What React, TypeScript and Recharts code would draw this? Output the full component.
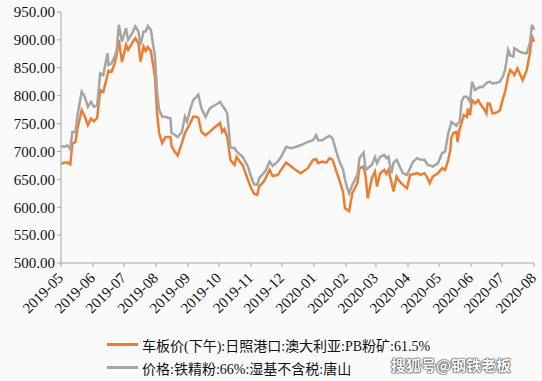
import { LineChart, Line, XAxis, YAxis, Legend } from 'recharts';

// trading days (sampled) 2019-05 .. 2020-08
const dates = [
  '2019-05-01', '2019-05-04', '2019-05-07', '2019-05-10', '2019-05-12', '2019-05-15', '2019-05-17', '2019-05-21',
  '2019-05-24', '2019-05-27', '2019-05-30', '2019-06-02', '2019-06-05', '2019-06-08', '2019-06-11', '2019-06-15',
  '2019-06-16', '2019-06-19', '2019-06-22', '2019-06-24', '2019-06-26', '2019-06-29', '2019-07-03', '2019-07-05',
  '2019-07-09', '2019-07-12', '2019-07-15', '2019-07-17', '2019-07-20', '2019-07-22', '2019-07-24', '2019-07-27',
  '2019-07-31', '2019-08-02', '2019-08-04', '2019-08-07', '2019-08-10', '2019-08-15', '2019-08-16', '2019-08-19',
  '2019-08-22', '2019-08-26', '2019-08-29', '2019-08-31', '2019-09-03', '2019-09-06', '2019-09-09', '2019-09-11',
  '2019-09-14', '2019-09-18', '2019-09-22', '2019-09-26', '2019-09-30', '2019-10-02', '2019-10-04', '2019-10-06',
  '2019-10-09', '2019-10-12', '2019-10-14', '2019-10-16', '2019-10-18', '2019-10-21', '2019-10-24', '2019-10-29',
  '2019-11-01', '2019-11-04', '2019-11-07', '2019-11-09', '2019-11-13', '2019-11-15', '2019-11-19', '2019-11-22',
  '2019-11-27', '2019-11-30', '2019-12-05', '2019-12-10', '2019-12-14', '2019-12-19', '2019-12-26', '2019-12-31',
  '2020-01-03', '2020-01-05', '2020-01-09', '2020-01-13', '2020-01-16', '2020-01-19', '2020-01-23', '2020-01-26',
  '2020-01-29', '2020-01-31', '2020-02-02', '2020-02-04', '2020-02-07', '2020-02-12', '2020-02-14', '2020-02-18',
  '2020-02-20', '2020-02-22', '2020-02-26', '2020-02-29', '2020-03-02', '2020-03-05', '2020-03-09', '2020-03-11',
  '2020-03-13', '2020-03-16', '2020-03-18', '2020-03-21', '2020-03-24', '2020-03-27', '2020-03-31', '2020-04-03',
  '2020-04-06', '2020-04-10', '2020-04-13', '2020-04-17', '2020-04-20', '2020-04-22', '2020-04-25', '2020-04-30',
  '2020-05-04', '2020-05-07', '2020-05-10', '2020-05-12', '2020-05-13', '2020-05-15', '2020-05-18', '2020-05-19',
  '2020-05-21', '2020-05-23', '2020-05-25', '2020-05-28', '2020-05-29', '2020-05-31', '2020-06-02', '2020-06-05',
  '2020-06-08', '2020-06-10', '2020-06-12', '2020-06-14', '2020-06-16', '2020-06-17', '2020-06-19', '2020-06-22',
  '2020-06-26', '2020-06-29', '2020-07-02', '2020-07-04', '2020-07-07', '2020-07-09', '2020-07-12', '2020-07-13',
  '2020-07-16', '2020-07-18', '2020-07-21', '2020-07-25', '2020-07-28', '2020-07-30', '2020-08-01',
];

// 车板价(下午):日照港口:澳大利亚:PB粉矿:61.5%
const pbFines = [
  677, 680, 680, 677, 714, 717, 741, 774, 763, 747, 759, 754, 760, 810, 807, 837,
  845, 843, 858, 875, 900, 860, 891, 882, 895, 903, 894, 861, 888, 880, 887, 880,
  834, 769, 733, 715, 726, 726, 710, 700, 693, 715, 733, 740, 750, 762, 762, 760,
  735, 729, 735, 742, 748, 751, 735, 740, 726, 685, 680, 676, 690, 682, 675, 649,
  635, 624, 622, 638, 645, 652, 667, 656, 658, 667, 680, 673, 667, 661, 670, 685,
  686, 679, 682, 680, 688, 685, 662, 646, 628, 598, 596, 593, 625, 643, 670, 673,
  655, 616, 652, 664, 637, 661, 667, 660, 667, 645, 628, 655, 646, 640, 634, 658,
  659, 661, 658, 661, 652, 643, 655, 661, 670, 667, 685, 703, 725, 733, 735, 717,
  740, 752, 765, 762, 777, 765, 792, 786, 792, 785, 780, 775, 768, 786, 786, 768,
  770, 774, 795, 807, 835, 846, 840, 837, 849, 840, 828, 846, 876, 906, 897,
];

// 价格:铁精粉:66%:湿基不含税:唐山
const tsConcentrate = [
  710, 708, 711, 704, 735, 735, 765, 807, 798, 780, 789, 780, 783, 840, 837, 876,
  855, 858, 870, 882, 927, 897, 921, 900, 912, 924, 915, 891, 915, 915, 925, 918,
  870, 807, 775, 762, 762, 759, 733, 730, 726, 735, 762, 753, 775, 792, 798, 802,
  777, 762, 777, 782, 786, 789, 783, 778, 768, 708, 706, 706, 700, 695, 690, 673,
  655, 641, 640, 652, 661, 665, 682, 674, 682, 690, 708, 706, 708, 711, 717, 720,
  729, 720, 720, 725, 728, 723, 697, 680, 668, 650, 635, 625, 640, 658, 688, 698,
  667, 670, 676, 690, 679, 690, 694, 688, 691, 661, 680, 685, 673, 661, 658, 670,
  682, 688, 685, 685, 676, 675, 673, 679, 697, 700, 733, 745, 753, 750, 746, 750,
  753, 790, 798, 798, 795, 789, 825, 810, 814, 816, 815, 819, 822, 824, 825, 822,
  823, 825, 835, 846, 882, 872, 870, 885, 882, 879, 877, 876, 894, 927, 918,
];

const monthLabels = [
  '2019-05', '2019-06', '2019-07', '2019-08', '2019-09', '2019-10', '2019-11', '2019-12',
  '2020-01', '2020-02', '2020-03', '2020-04', '2020-05', '2020-06', '2020-07', '2020-08',
];

const yTicks = [500, 550, 600, 650, 700, 750, 800, 850, 900, 950];

const seriesNames = [
  '车板价(下午):日照港口:澳大利亚:PB粉矿:61.5%',
  '价格:铁精粉:66%:湿基不含税:唐山',
];
const seriesColors = ['#ED7D31', '#A5A5A5'];

const START = Date.UTC(2019, 4, 1);
function dayNum(s: string) {
  const p = s.split('-').map(Number);
  return (Date.UTC(p[0], p[1] - 1, p[2] || 1) - START) / 86400000;
}

const data = dates.map((d, i) => ({ t: dayNum(d), pb: pbFines[i], ts: tsConcentrate[i] }));
const xTicks = monthLabels.map((m) => dayNum(m));
const labelOf: Record<number, string> = {};
monthLabels.forEach((m, i) => (labelOf[xTicks[i]] = m));

const FONT = '"Liberation Serif", "Noto Sans CJK SC", serif';

const MonthTick = (props: any) => {
  const { x, y, payload } = props;
  return (
    <text
      x={x + 3}
      y={y + 10}
      transform={`rotate(-45 ${x + 3} ${y + 10})`}
      textAnchor="end"
      fontFamily={FONT}
      fontSize={15}
      fill="#111"
    >
      {labelOf[payload.value]}
    </text>
  );
};

const LegendBox = () => (
  <div style={{ paddingLeft: 107, paddingTop: 10, fontFamily: FONT, fontSize: 14, color: '#111' }}>
    {seriesNames.map((n, i) => (
      <div key={n} style={{ display: 'flex', alignItems: 'center', height: 23 }}>
        <span style={{ display: 'inline-block', width: 31, height: 3, background: seriesColors[i], marginRight: 4 }} />
        <span>{n}</span>
      </div>
    ))}
  </div>
);

export default function App() {
  return (
    <div style={{ position: 'absolute', left: 0, top: 0, width: 542, height: 381, background: '#FAFAFA' }}>
      <LineChart width={542} height={381} data={data} margin={{ top: 12, right: 8, left: 0, bottom: 0 }}>
        <XAxis
          dataKey="t"
          type="number"
          domain={[xTicks[0], xTicks[xTicks.length - 1]]}
          ticks={xTicks}
          interval={0}
          height={60}
          tick={<MonthTick />}
          tickSize={4}
          stroke="#A6A6A6"
          tickLine={{ stroke: '#A6A6A6' }}
        />
        <YAxis
          type="number"
          domain={[500, 950]}
          ticks={yTicks}
          width={61}
          tickSize={4}
          tickFormatter={(v: number) => v.toFixed(2)}
          tick={{ fontFamily: FONT, fontSize: 15, fill: '#111' }}
          stroke="#A6A6A6"
          interval={0}
        />
        <Legend verticalAlign="bottom" content={<LegendBox />} wrapperStyle={{ height: 58, left: 0, width: 542 }} />
        <Line dataKey="pb" name={seriesNames[0]} stroke={seriesColors[0]} strokeWidth={2.5} dot={false} isAnimationActive={false} type="linear" />
        <Line dataKey="ts" name={seriesNames[1]} stroke={seriesColors[1]} strokeWidth={2.5} dot={false} isAnimationActive={false} type="linear" />
      </LineChart>
      <div
        style={{
          position: 'absolute',
          left: 391,
          top: 354,
          fontFamily: '"Noto Sans CJK SC", sans-serif',
          fontWeight: 700,
          fontSize: 15,
          color: '#fff',
          textShadow: '0 0 1px #333, 0 0 1px #333, 0 0 2px #333',
        }}
      >
        搜狐号@钢铁老板
      </div>
    </div>
  );
}
